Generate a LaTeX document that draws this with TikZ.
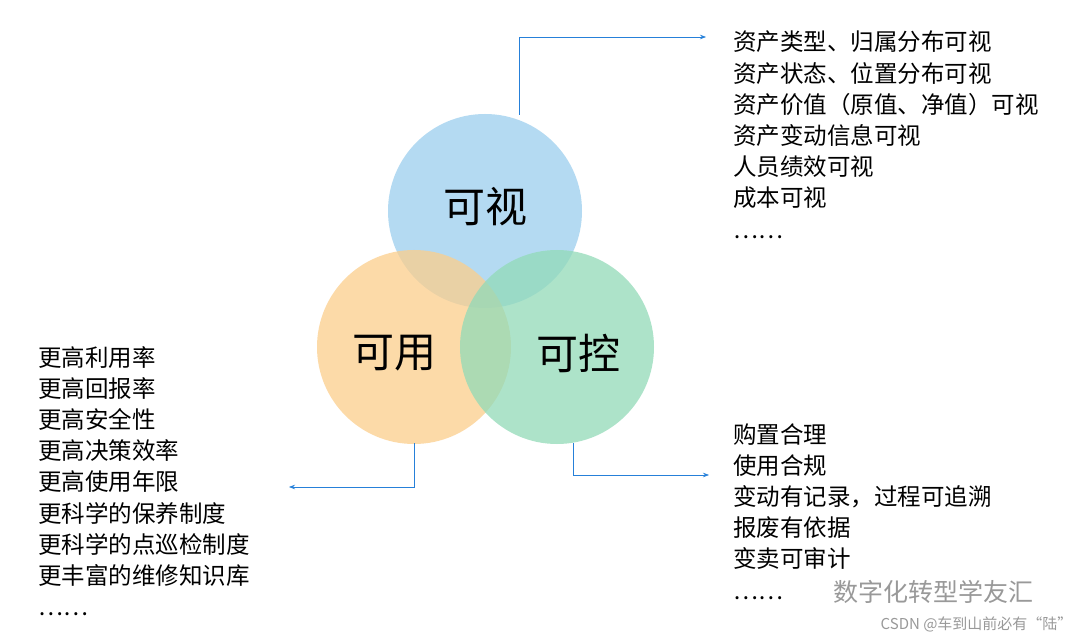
\documentclass[tikz,border=0pt]{standalone}
\usepackage{fontspec}
\setmainfont{Noto Sans CJK SC}
\usetikzlibrary{arrows.meta}
\begin{document}
\begin{tikzpicture}[x=1pt,y=-1pt,
  circ/.style={circle,minimum size=194pt,inner sep=0pt,fill opacity=0.75},
  big/.style={font=\fontsize{42}{44}\selectfont},
  lst/.style={anchor=north west,align=left,inner sep=0pt,font=\fontsize{23.5}{31.2}\selectfont},
  conn/.style={draw=blue!50!cyan!70!gray,line width=0.7pt,-{Stealth[length=6pt]}}]
\useasboundingbox[fill=white] (0,0) rectangle (1080,639);
\node[circ,fill={rgb,255:red,156;green,206;blue,238}] (v) at (485,211) {};
\node[circ,fill={rgb,255:red,252;green,206;blue,140}] (u) at (414,347) {};
\node[circ,fill={rgb,255:red,146;green,218;blue,184}] (c) at (557,347) {};
\node[big] (vt) at (485,207) {可视};
\node[big] (ut) at (394,353) {可用};
\node[big] (ct) at (578,353) {可控};
\node[lst] (l1) at (733,31) {资产类型、归属分布可视\\资产状态、位置分布可视\\资产价值（原值、净值）可视\\资产变动信息可视\\人员绩效可视\\成本可视\\……};
\node[lst] (l2) at (38,346) {更高利用率\\更高回报率\\更高安全性\\更高决策效率\\更高使用年限\\更科学的保养制度\\更科学的点巡检制度\\更丰富的维修知识库\\……};
\node[lst] (l3) at (733,423) {购置合理\\使用合规\\变动有记录，过程可追溯\\报废有依据\\变卖可审计\\……};
\coordinate (a1) at (519,115); \coordinate (a2) at (706,37);
\coordinate (b1) at (414,443); \coordinate (b2) at (289,487);
\coordinate (c1) at (573,443); \coordinate (c2) at (709,475);
\draw[conn] (a1) |- (a2);
\draw[conn] (b1) |- (b2);
\draw[conn] (c1) |- (c2);
\node[anchor=west,text=gray!80,font=\fontsize{25}{27}\selectfont] (w1) at (830,592) {数字化转型学友汇};
\node[anchor=east,text=gray!80,font=\fontsize{15}{16}\selectfont] (w2) at (1076,624) {CSDN @车到山前必有“陆”};
\end{tikzpicture}
\end{document}
